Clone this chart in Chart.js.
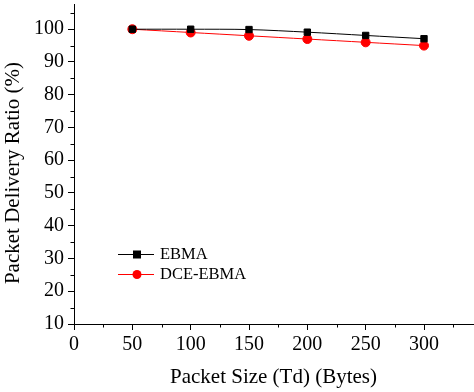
<!DOCTYPE html>
<html>
<head>
<meta charset="utf-8">
<script src="https://cdn.jsdelivr.net/npm/chart.js@4.4.1/dist/chart.umd.min.js"></script>
<style>
  html, body { margin: 0; padding: 0; background: #fff; }
  #wrap { width: 474px; height: 392px; }
</style>
</head>
<body>
<div id="wrap"><canvas id="pdrChart" width="474" height="392"></canvas></div>
<script>
  // values
  const packetSizes = [50, 100, 150, 200, 250, 300];
  const ebma = [100, 100, 99.9, 99.1, 98.1, 97.1];
  const dceEbma = [100, 99, 98, 97, 96, 95];
  const xTicks = [0, 50, 100, 150, 200, 250, 300];
  const yTicks = [10, 20, 30, 40, 50, 60, 70, 80, 90, 100];

  const serif = "'Liberation Serif', serif";

  function toPoints(xs, ys) {
    return xs.map((x, i) => ({ x: x, y: ys[i] }));
  }

  // minor ticks, axis titles and legend
  const extras = {
    id: 'extras',
    afterDraw(chart) {
      const c = chart.ctx;
      const xs = chart.scales.x, ys = chart.scales.y;
      const area = chart.chartArea;
      c.save();
      c.strokeStyle = '#000';
      c.lineWidth = 1;
      c.beginPath();
      for (let v = 25; v < 340; v += 50) {
        const px = Math.round(xs.getPixelForValue(v)) + 0.5;
        c.moveTo(px, area.bottom);
        c.lineTo(px, area.bottom + 3.5);
      }
      for (let v = 15; v < 107; v += 10) {
        const py = Math.round(ys.getPixelForValue(v)) + 0.5;
        c.moveTo(area.left, py);
        c.lineTo(area.left - 3.5, py);
      }
      c.stroke();

      c.fillStyle = '#000';
      c.font = '21px ' + serif;
      c.textAlign = 'center';
      c.textBaseline = 'middle';
      c.fillText('Packet Size (Td) (Bytes)', (area.left + area.right) / 2, 377);
      c.save();
      c.translate(13, 173);
      c.rotate(-Math.PI / 2);
      c.fillText('Packet Delivery Ratio (%)', 0, 0);
      c.restore();

      // legend
      const rows = [254, 274];
      chart.data.datasets.forEach((ds, i) => {
        const y = rows[i];
        c.strokeStyle = ds.borderColor;
        c.beginPath();
        c.moveTo(118, y + 0.5);
        c.lineTo(154, y + 0.5);
        c.stroke();
        c.fillStyle = ds.pointBackgroundColor;
        if (ds.pointStyle === 'rect') {
          c.fillRect(133, y - 3.5, 8, 8);
        } else {
          c.beginPath();
          c.arc(137, y + 0.5, 4.5, 0, Math.PI * 2);
          c.fill();
        }
        c.fillStyle = '#000';
        c.font = '16.5px ' + serif;
        c.textAlign = 'left';
        c.textBaseline = 'middle';
        c.fillText(ds.label, 160, y + 1);
      });
      c.restore();
    }
  };

  new Chart(document.getElementById('pdrChart'), {
    type: 'line',
    data: {
      datasets: [
        {
          label: 'EBMA',
          data: toPoints(packetSizes, ebma),
          borderColor: '#000',
          backgroundColor: '#000',
          pointBackgroundColor: '#000',
          pointBorderColor: '#000',
          pointStyle: 'rect',
          pointRadius: 4.5,
          borderWidth: 1,
          tension: 0.3
        },
        {
          label: 'DCE-EBMA',
          data: toPoints(packetSizes, dceEbma),
          borderColor: '#ff0000',
          backgroundColor: '#ff0000',
          pointBackgroundColor: '#ff0000',
          pointBorderColor: '#ff0000',
          pointStyle: 'circle',
          pointRadius: 4.5,
          borderWidth: 1,
          tension: 0.3
        }
      ]
    },
    options: {
      responsive: false,
      animation: false,
      layout: { autoPadding: false, padding: { top: 4, right: 1, left: 0, bottom: 0 } },
      plugins: { legend: { display: false }, tooltip: { enabled: false } },
      scales: {
        x: {
          type: 'linear',
          min: 0,
          max: 342,
          afterBuildTicks(s) { s.ticks = xTicks.map(v => ({ value: v })); },
          afterFit(s) { s.height = 68; s.paddingLeft = 0; s.paddingRight = 0; },
          grid: { display: true, drawOnChartArea: false, drawTicks: true, tickLength: 6, color: '#000' },
          border: { display: true, color: '#000', width: 1 },
          ticks: { color: '#000', padding: 3, maxRotation: 0, font: { family: serif, size: 20 } }
        },
        y: {
          type: 'linear',
          min: 10,
          max: 107.7,
          afterBuildTicks(s) { s.ticks = yTicks.map(v => ({ value: v })); },
          afterFit(s) { s.width = 74; s.paddingTop = 0; s.paddingBottom = 0; },
          grid: { display: true, drawOnChartArea: false, drawTicks: true, tickLength: 6, color: '#000' },
          border: { display: true, color: '#000', width: 1 },
          ticks: { color: '#000', padding: 4, font: { family: serif, size: 20 } }
        }
      }
    },
    plugins: [extras]
  });
</script>
</body>
</html>
